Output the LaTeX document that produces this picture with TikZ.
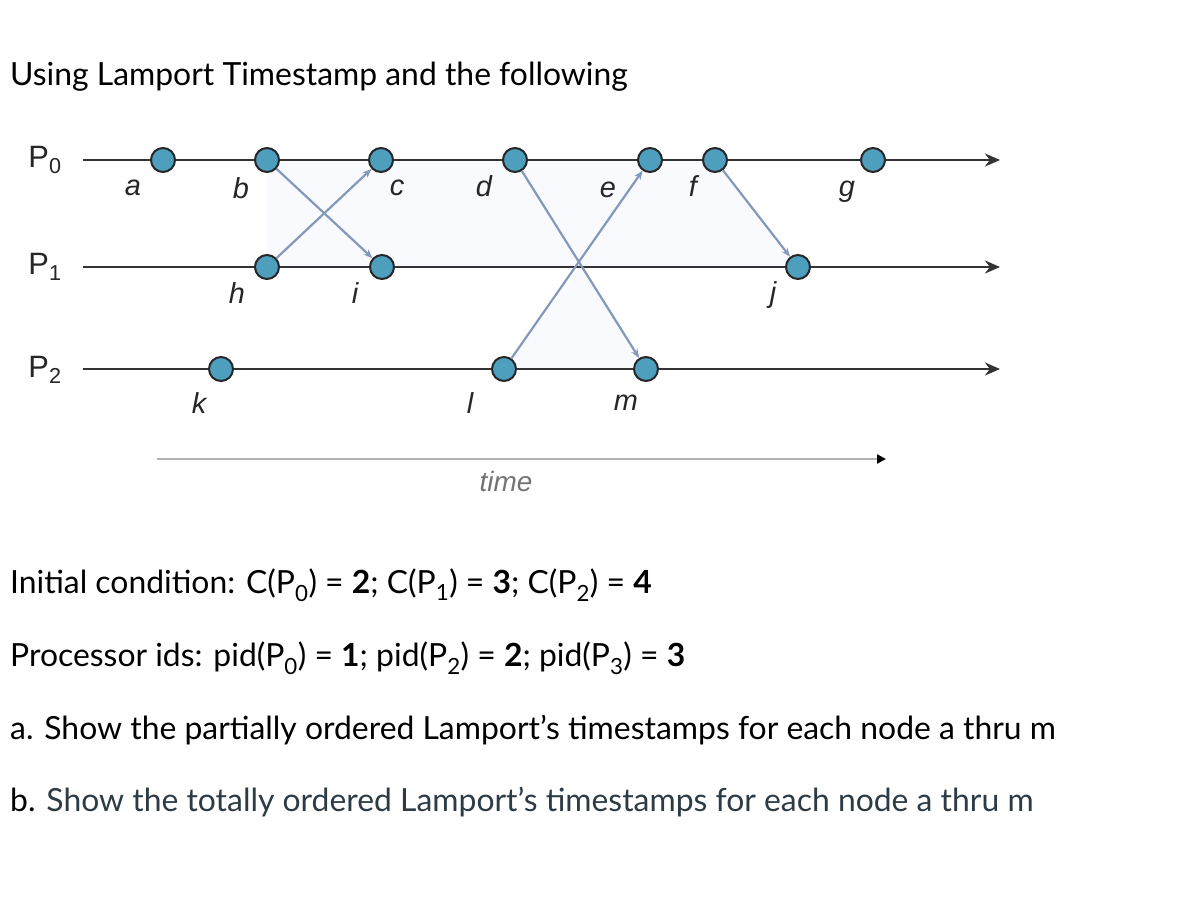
\documentclass[tikz,border=0pt]{standalone}
\usepackage{fontspec}
\setmainfont{Lato}
\newfontfamily\diagfont{Liberation Sans}
\usetikzlibrary{arrows.meta}
\definecolor{eventblue}{HTML}{4E9EBD}
\definecolor{msgblue}{HTML}{8498BB}
\definecolor{lightshade}{HTML}{F9FAFD}
\definecolor{canvasgrey}{HTML}{2D3B45}
\tikzstyle{event} = [circle, draw=black!85, line width=2bp, fill=eventblue, minimum size=24bp, inner sep=0pt]
\tikzstyle{timeline} = [line width=2.6bp, draw=black!80, -{Stealth[length=15bp,width=13bp]}]
\tikzstyle{message} = [line width=2.2bp, draw=msgblue, -{Stealth[length=9bp,width=7bp]}]
\tikzstyle{evlabel} = [font=\diagfont\itshape\fontsize{29}{31}\selectfont, text=black!85]
\tikzstyle{proc} = [font=\diagfont\fontsize{31}{33}\selectfont, text=black!85]
\tikzstyle{question} = [anchor=west, inner sep=0pt, font=\fontsize{32}{36}\selectfont]

\begin{document}
\begin{tikzpicture}[x=1bp, y=-1bp]

    \useasboundingbox (0,0) rectangle (1188,910);

    % faint shading between the messages
    \fill[lightshade] (267,160) -- (716,160) -- (798,267) -- (267,267) -- cycle;
    \fill[lightshade] (504,369) -- (580,267) -- (646,369) -- cycle;

    % process lines
    \node (p0) [proc] at (45,160) {P\textsubscript{0}};
    \node (p1) [proc] at (45,267) {P\textsubscript{1}};
    \node (p2) [proc] at (45,370) {P\textsubscript{2}};
    \coordinate (p0_start) at (83,160);
    \coordinate (p0_end) at (1000,160);
    \coordinate (p1_start) at (83,267);
    \coordinate (p1_end) at (1000,267);
    \coordinate (p2_start) at (83,369);
    \coordinate (p2_end) at (1000,369);
    \draw [timeline] (p0_start) -- (p0_end);
    \draw [timeline] (p1_start) -- (p1_end);
    \draw [timeline] (p2_start) -- (p2_end);

    % events
    \node (a) [event] at (163,160) {};
    \node (b) [event] at (267,160) {};
    \node (c) [event] at (381,160) {};
    \node (d) [event] at (515,160) {};
    \node (e) [event] at (650,160) {};
    \node (f) [event] at (715,160) {};
    \node (g) [event] at (873,160) {};
    \node (h) [event] at (267,267) {};
    \node (i) [event] at (382,267) {};
    \node (j) [event] at (798,267) {};
    \node (k) [event] at (221,369) {};
    \node (l) [event] at (504,369) {};
    \node (m) [event] at (646,369) {};

    \node (a_label) [evlabel] at (133,188) {a};
    \node (b_label) [evlabel] at (241,188) {b};
    \node (c_label) [evlabel] at (397,188) {c};
    \node (d_label) [evlabel] at (484,186) {d};
    \node (e_label) [evlabel] at (608,190) {e};
    \node (f_label) [evlabel] at (693,186) {f};
    \node (g_label) [evlabel] at (847,192) {g};
    \node (h_label) [evlabel] at (237,293) {h};
    \node (i_label) [evlabel] at (355,293) {i};
    \node (j_label) [evlabel] at (773,295) {j};
    \node (k_label) [evlabel] at (199,403) {k};
    \node (l_label) [evlabel] at (470,403) {l};
    \node (m_label) [evlabel] at (626,403) {m};

    % messages
    \draw [message] (b) -- (i);
    \draw [message] (h) -- (c);
    \draw [message] (d) -- (m);
    \draw [message] (l) -- (e);
    \draw [message] (f) -- (j);

    % time axis
    \coordinate (time_start) at (157,459);
    \coordinate (time_end) at (886,459);
    \draw [line width=2.8bp, draw=black!30, -{Triangle[length=9bp,width=9bp,color=black]}] (time_start) -- (time_end);
    \node (time_label) [font=\diagfont\itshape\fontsize{28}{30}\selectfont, text=black!55] at (506,482) {time};

    % question text
    \node (intro) [question] at (10,77) {Using Lamport Timestamp and the following};
    \node (initial) [question] at (10,585) {Initial condition: C(P\textsubscript{0}) = \textbf{2}; C(P\textsubscript{1}) = \textbf{3}; C(P\textsubscript{2}) = \textbf{4}};
    \node (pids) [question] at (10,658) {Processor ids: pid(P\textsubscript{0}) = \textbf{1}; pid(P\textsubscript{2}) = \textbf{2}; pid(P\textsubscript{3}) = \textbf{3}};
    \node (part_a) [question] at (10,730) {a. Show the partially ordered Lamport’s timestamps for each node a thru m};
    \node (part_b) [question] at (10,802) {b. \textcolor{canvasgrey}{Show the totally ordered Lamport’s timestamps for each node a thru m}};

\end{tikzpicture}
\end{document}
